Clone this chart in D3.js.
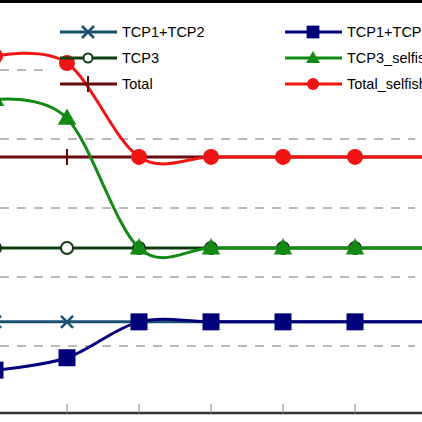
<!DOCTYPE html>
<html><head><meta charset="utf-8">
<script src="https://cdn.jsdelivr.net/npm/d3@7"></script>
<style>body{margin:0;background:#fff}</style>
</head><body>
<script>
// data (y in gridline units)
var xIdx = [0, 1, 2, 3, 4, 5, 6];
var tcp12 = [1.35, 1.35, 1.35, 1.35, 1.35, 1.35, 1.35];
var tcp12Selfish = [0.65, 0.83, 1.35, 1.35, 1.35, 1.35, 1.35];
var tcp3 = [2.42, 2.42, 2.42, 2.42, 2.42, 2.42, 2.42];
var tcp3Selfish = [4.57, 4.3, 2.42, 2.42, 2.42, 2.42, 2.42];
var total = [3.74, 3.74, 3.74, 3.74, 3.74, 3.74, 3.74];
var totalSelfish = [5.2, 5.1, 3.74, 3.74, 3.74, 3.74, 3.74];
var gridVals = [1, 2, 3, 4, 5];

var series = [
  {name: "TCP1+TCP2", vals: tcp12, color: "#1b4f72", mark: "x"},
  {name: "TCP3", vals: tcp3, color: "#0f3d0f", mark: "o"},
  {name: "Total", vals: total, color: "#6b0a0a", mark: "+"},
  {name: "TCP1+TCP2_selfish", vals: tcp12Selfish, color: "#00007a", mark: "sq"},
  {name: "TCP3_selfish", vals: tcp3Selfish, color: "#138a13", mark: "tri"},
  {name: "Total_selfish", vals: totalSelfish, color: "#f01414", mark: "dot"}
];

var svg = d3.select("body").append("svg").attr("width", 422).attr("height", 422);
var x = d3.scaleLinear().domain([0, 1]).range([-5, 67]);
var y = d3.scaleLinear().domain([0, 1]).range([415, 346]);

svg.append("rect").attr("x", 0).attr("y", 0).attr("width", 422).attr("height", 3).attr("fill", "#000");

svg.selectAll(".grid").data(gridVals).enter().append("line")
  .attr("x1", 0).attr("x2", 415)
  .attr("y1", function(d){ return y(d); }).attr("y2", function(d){ return y(d); })
  .attr("stroke", "#777").attr("stroke-width", 1).attr("stroke-dasharray", "9,8");

// axis
svg.append("line").attr("x1", 0).attr("x2", 422).attr("y1", 413).attr("y2", 413)
  .attr("stroke", "#333").attr("stroke-width", 2.5);
svg.selectAll(".tick").data(xIdx.slice(1, 6)).enter().append("line")
  .attr("x1", function(d){ return x(d); }).attr("x2", function(d){ return x(d); })
  .attr("y1", 404).attr("y2", 413).attr("stroke", "#888");

// legend background
svg.append("rect").attr("x", 45).attr("y", 18).attr("width", 377).attr("height", 80).attr("fill", "#fff");

function drawMark(g, m, cx, cy, color, s) {
  s = s || 1;
  if (m === "x") {
    g.append("path").attr("d", "M" + (cx-6) + "," + (cy-6) + "L" + (cx+6) + "," + (cy+6) + "M" + (cx-6) + "," + (cy+6) + "L" + (cx+6) + "," + (cy-6))
      .attr("stroke", color).attr("stroke-width", 2.5);
  } else if (m === "o") {
    g.append("circle").attr("cx", cx).attr("cy", cy).attr("r", 6 * s).attr("fill", "#fff").attr("stroke", color).attr("stroke-width", 2);
  } else if (m === "+") {
    g.append("line").attr("x1", cx).attr("x2", cx).attr("y1", cy-8).attr("y2", cy+8).attr("stroke", color).attr("stroke-width", 2);
  } else if (m === "sq") {
    g.append("rect").attr("x", cx-8.5*s).attr("y", cy-8.5*s).attr("width", 17*s).attr("height", 17*s).attr("fill", color);
  } else if (m === "tri") {
    g.append("path").attr("d", d3.symbol(d3.symbolTriangle, 150 * s * s)()).attr("transform", "translate(" + cx + "," + (cy + 1) + ")").attr("fill", color);
  } else if (m === "dot") {
    g.append("circle").attr("cx", cx).attr("cy", cy).attr("r", 8 * s).attr("fill", color);
  }
}

var line = d3.line().x(function(d, i){ return x(xIdx[i]); }).y(function(d){ return y(d); })
  .curve(d3.curveCatmullRom.alpha(0));

series.forEach(function(s){
  var g = svg.append("g");
  g.append("path").attr("d", line(s.vals)).attr("fill", "none").attr("stroke", s.color).attr("stroke-width", 3);
  s.vals.slice(0, 6).forEach(function(v, i){ drawMark(g, s.mark, x(xIdx[i]), y(v), s.color); });
});

// legend
series.forEach(function(s, i){
  var col = i < 3 ? 0 : 1, row = i % 3;
  var lx = col === 0 ? 60 : 285, ly = 32 + row * 26;
  var g = svg.append("g");
  g.append("line").attr("x1", lx).attr("x2", lx + 57).attr("y1", ly).attr("y2", ly).attr("stroke", s.color).attr("stroke-width", 3);
  drawMark(g, s.mark, lx + 28, ly, s.color, 0.75);
  g.append("text").attr("x", lx + 62).attr("y", ly + 5).text(s.name)
    .attr("font-family", "Liberation Sans, Arial, sans-serif").attr("font-size", 14.5).attr("fill", "#000");
});
</script>
</body></html>
